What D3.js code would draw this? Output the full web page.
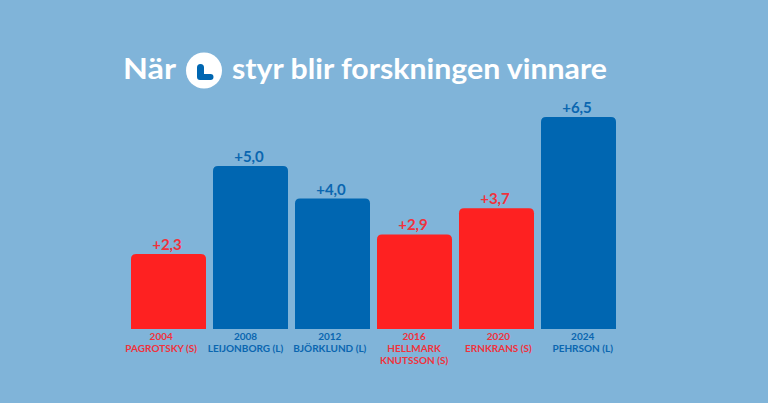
<!DOCTYPE html>
<html><head><meta charset="utf-8">
<script src="https://cdn.jsdelivr.net/npm/d3@7"></script>
<style>html,body{margin:0;padding:0;background:#80b4d9;}svg{display:block;}</style>
</head><body><svg id="c" width="768" height="403"></svg>
<script>
const years = ["2004","2008","2012","2016","2020","2024"];
const names = [["PAGROTSKY (S)"],["LEIJONBORG (L)"],["BJÖRKLUND (L)"],["HELLMARK","KNUTSSON (S)"],["ERNKRANS (S)"],["PEHRSON (L)"]];
const values = [2.3,5.0,4.0,2.9,3.7,6.5];
const parties = ["S","L","L","S","S","L"];
const valueLabels = ["+2,3","+5,0","+4,0","+2,9","+3,7","+6,5"];

const W=768,H=403;
const FONT="Lato";
const red="#fe2121", blue="#0066b1", redText="#f0323c", blueText="#0a66b0";
const svg=d3.select("#c");
svg.append("rect").attr("width",W).attr("height",H).attr("fill","#80b4d9");

const x=d3.scaleBand().domain(years).range([131,616]).paddingInner(7/82).paddingOuter(0);
const xl=d3.scalePoint().domain(years).range([160.7,582.2]);
const y=d3.scaleLinear().domain([0,6.5]).range([329,117]);
const col=p=>p==="S"?red:blue;
const tcol=p=>p==="S"?redText:blueText;
const r=5;
const g=svg.append("g");
years.forEach((yr,i)=>{
  const x0=x(yr), w=x.bandwidth(), t=y(values[i]), b=y(0);
  g.append("path").attr("fill",col(parties[i]))
   .attr("d",`M${x0},${b}V${t+r}Q${x0},${t} ${x0+r},${t}H${x0+w-r}Q${x0+w},${t} ${x0+w},${t+r}V${b}Z`);
  g.append("text").attr("x",x0+w/2-1.5).attr("y",t-4).attr("text-anchor","middle")
   .attr("font-family",FONT).attr("font-weight",700).attr("font-size",15)
   .attr("fill",tcol(parties[i])).text(valueLabels[i]);
});
// axis
const ax=svg.append("g").attr("transform",`translate(0,${y(0)})`).call(d3.axisBottom(xl).tickSize(0).tickPadding(0));
ax.select(".domain").remove();
ax.selectAll(".tick text").remove();
ax.selectAll(".tick").each(function(d,i){
  const t=d3.select(this).append("text").attr("text-anchor","middle")
   .attr("font-family",FONT).attr("font-weight",700).attr("font-size",10)
   .attr("fill",tcol(parties[i]));
  t.append("tspan").attr("x",0).attr("y",10.5).text(d);
  names[i].forEach((n,k)=>t.append("tspan").attr("x",0).attr("y",23+k*12).text(n));
});
// title
const ttl=svg.append("g");
const t1=ttl.append("text").attr("x",123).attr("y",78.5).attr("font-family",FONT).attr("font-weight",700)
  .attr("font-size",28).attr("fill","#fff").text("När");
t1.attr("textLength",53).attr("lengthAdjust","spacingAndGlyphs");
const t2=ttl.append("text").attr("x",232).attr("y",78.5).attr("font-family",FONT).attr("font-weight",700)
  .attr("font-size",28).attr("fill","#fff").text("styr blir forskningen vinnare");
t2.attr("textLength",375).attr("lengthAdjust","spacingAndGlyphs");
ttl.append("circle").attr("cx",204).attr("cy",70.5).attr("r",18).attr("fill","#fff");
ttl.append("path").attr("fill","#0066b1")
  .attr("d","M197,67.5a3.5,3.5 0 0 1 7,0V74H210.5a3,3 0 0 1 0,6H200a3,3 0 0 1 -3,-3Z");
</script></body></html>
